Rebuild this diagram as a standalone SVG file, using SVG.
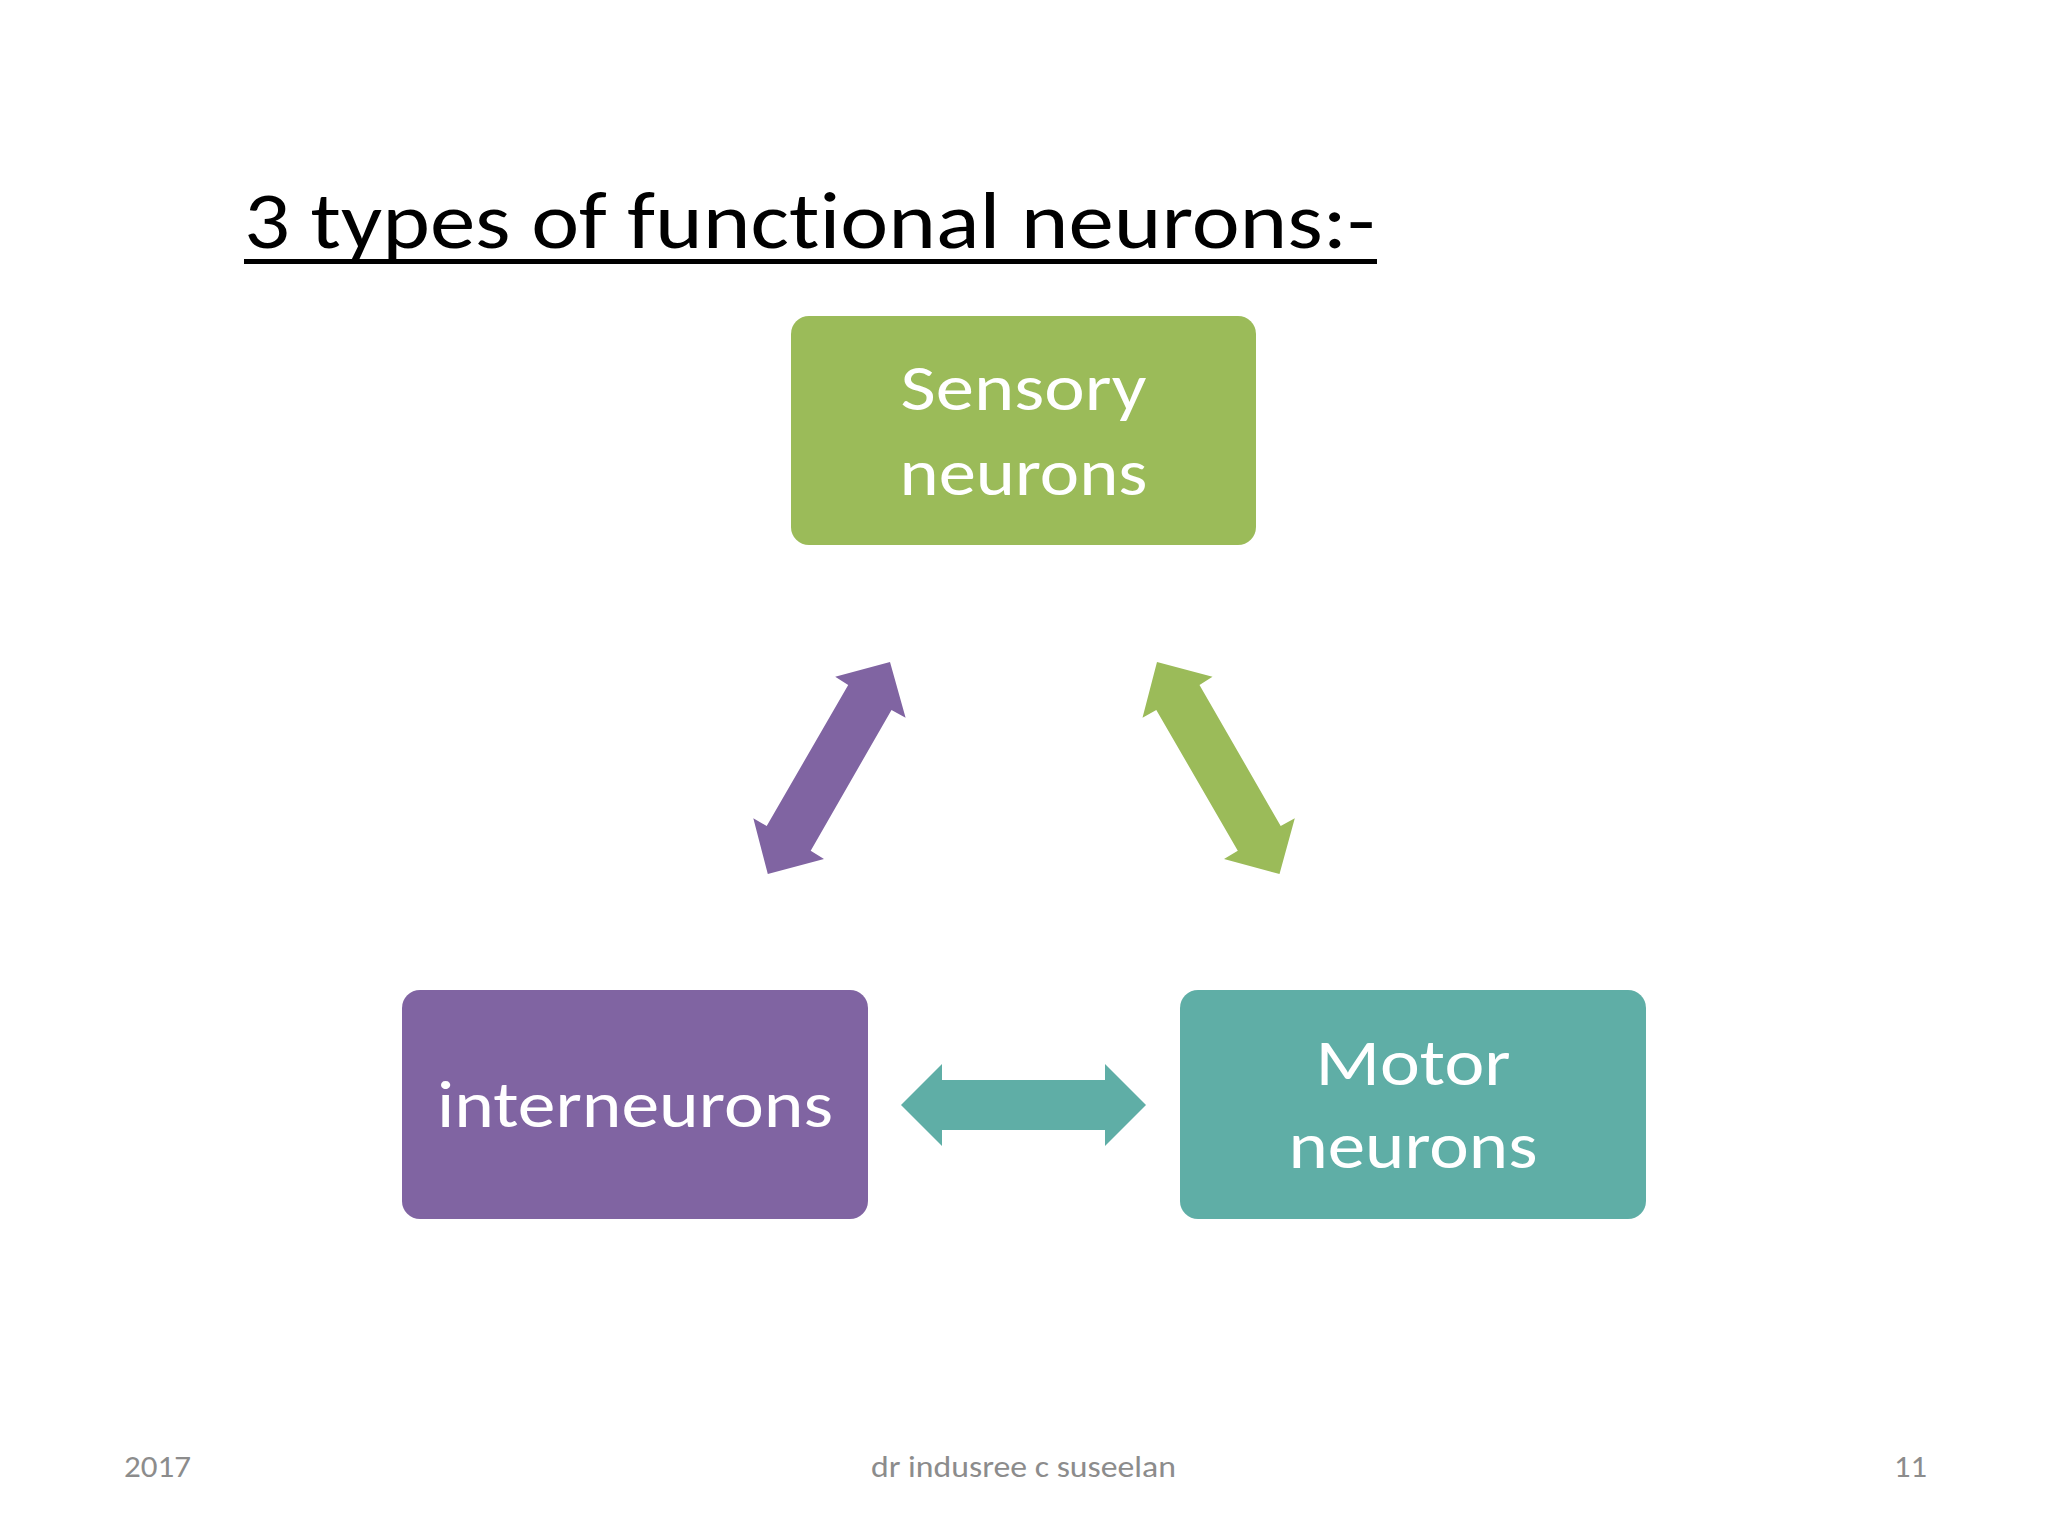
<svg xmlns="http://www.w3.org/2000/svg" width="2048" height="1536" viewBox="0 0 2048 1536">
<style>
text{font-variant-ligatures:none;font-feature-settings:"liga" 0;}
.t{font-family:Carlito,Lato,"Open Sans",sans-serif;}
.lbl{font-family:Carlito,Lato,"Open Sans",sans-serif;font-size:66px;fill:#ffffff;text-anchor:middle;}
.foot{font-family:Carlito,Lato,"Open Sans",sans-serif;font-size:30px;fill:#8c8c8c;}
</style>
<rect width="2048" height="1536" fill="#ffffff"/>
<g id="title">
<text class="t" x="244" y="248" font-size="80" fill="#000" textLength="1131" lengthAdjust="spacingAndGlyphs">3 types of functional neurons:-</text>
<rect x="244" y="259" width="1133" height="5" fill="#000"/>
</g>
<g id="connectors">
<polygon fill="#8064A2" points="890,662 905.6,717.7 891.5,710 810.7,850.7 824,859 767.8,874 753.3,818.3 766.7,826 848.2,685 835.2,676.7"/>
<polygon fill="#9BBB59" points="1157,662 1142.5,717.7 1156.3,710 1237.8,850.7 1224,859 1279.5,874 1294.8,818.3 1280.7,826 1199.5,685 1212.5,676.7"/>
<polygon fill="#5FAEA6" points="901,1105 942,1064 942,1080 1105,1080 1105,1064 1146,1105 1105,1146 1105,1130 942,1130 942,1146"/>
</g>
<g id="sensory">
<rect x="791" y="316" width="465" height="229" rx="18" fill="#9BBB59"/>
<text class="lbl" x="1023.5" y="410" textLength="246" lengthAdjust="spacingAndGlyphs">Sensory</text>
<text class="lbl" x="1023.5" y="495" textLength="248" lengthAdjust="spacingAndGlyphs">neurons</text>
</g>
<g id="interneurons">
<rect x="402" y="990" width="466" height="229" rx="18" fill="#8064A2"/>
<text class="lbl" x="635" y="1127" textLength="396" lengthAdjust="spacingAndGlyphs">interneurons</text>
</g>
<g id="motor">
<rect x="1180" y="990" width="466" height="229" rx="18" fill="#5FAEA6"/>
<text class="lbl" x="1413" y="1085" textLength="195" lengthAdjust="spacingAndGlyphs">Motor</text>
<text class="lbl" x="1413" y="1168" textLength="249" lengthAdjust="spacingAndGlyphs">neurons</text>
</g>
<g id="footer">
<text class="foot" x="124" y="1477" textLength="67" lengthAdjust="spacingAndGlyphs">2017</text>
<text class="foot" x="1023.5" y="1477" text-anchor="middle" textLength="305" lengthAdjust="spacingAndGlyphs">dr indusree c suseelan</text>
<text class="foot" x="1894" y="1477" textLength="33" lengthAdjust="spacingAndGlyphs">11</text>
</g>
</svg>
